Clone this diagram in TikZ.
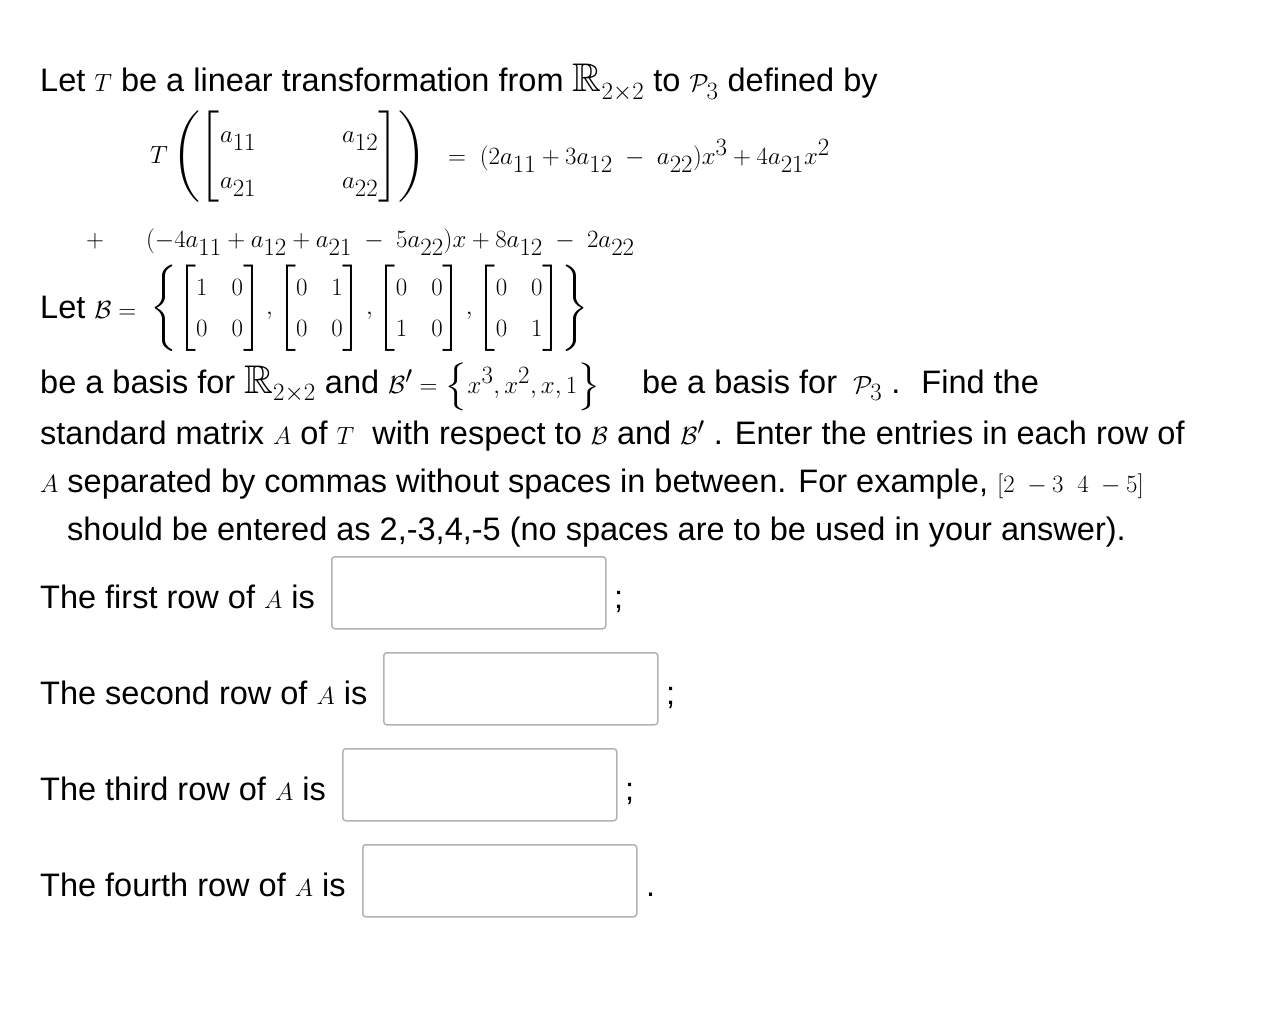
\documentclass[tikz,border=0pt]{standalone}
\usepackage{amsmath,amssymb}
\usepackage{fontspec}
\setmainfont{Liberation Sans}
\newcommand\mm[1]{{\fontsize{40}{48}\selectfont$#1$}}
\begin{document}
\begin{tikzpicture}[x=1pt,y=-1pt,
  txt/.style={anchor=base west,inner sep=0pt,font=\fontsize{32.5}{38}\selectfont},
  mth/.style={inner sep=0pt,font=\fontsize{42}{50}\selectfont},
  ansbox/.style={draw=black!30,line width=1.5pt,rounded corners=3pt,minimum width=274pt,minimum height=72pt,inner sep=0pt,anchor=north west}]
\useasboundingbox (0,0) rectangle (1274,1024);
\node[txt] (l1) at (40,92) {Let \mm{T} be a linear transformation from \mm{\mathbb{R}_{2\times2}} to \mm{\mathcal{P}_3} defined by};
\node[mth,anchor=west,font=\fontsize{38}{44}\selectfont] (tm) at (150,157) {$T\left(\begin{bmatrix} a_{11} & \qquad a_{12}\\[2pt] a_{21} & \qquad a_{22}\end{bmatrix}\right)$};
\node[mth,anchor=base west] (rhs) at (448,165) {$=\;(2a_{11}+3a_{12}\;-\;a_{22})x^3+4a_{21}x^2$};
\node[mth,anchor=base west] (l3) at (86,248) {$+\quad(-4a_{11}+a_{12}+a_{21}\;-\;5a_{22})x+8a_{12}\;-\;2a_{22}$};
\node[txt] (letb) at (40,318) {Let \mm{\mathcal{B}=}};
\node[mth,anchor=west,font=\fontsize{36}{40}\selectfont] (bset) at (150,308) {$\setlength\arraycolsep{12pt}\left\{\begin{bmatrix}1&0\\0&0\end{bmatrix},\begin{bmatrix}0&1\\0&0\end{bmatrix},\begin{bmatrix}0&0\\1&0\end{bmatrix},\begin{bmatrix}0&0\\0&1\end{bmatrix}\right\}$};
\node[txt] (l5) at (40,393) {be a basis for \mm{\mathbb{R}_{2\times2}} and \mm{\mathcal{B}'=\big\{x^3,x^2,x,1\big\}}\quad\ be a basis for \mm{\;\mathcal{P}_3} . \ Find the};
\node[txt] (l6) at (40,444) {standard matrix \mm{A} of \mm{T}\ \ with respect to \mm{\mathcal{B}} and \mm{\mathcal{B}'} . Enter the entries in each row of};
\node[txt] (l7) at (40,492) {\mm{A} separated by commas without spaces in between. For example, \mm{[2\;-3\;\;4\;-5]}};
\node[txt] (l8) at (67,540) {should be entered as 2,-3,4,-5 (no spaces are to be used in your answer).};
\node[txt] (r1) at (40,608) {The first row of \mm{A} is};
\node[ansbox] (b1) at (331,556) {};
\node[txt] (s1) at (614,608) {;};
\node[txt] (r2) at (40,704) {The second row of \mm{A} is};
\node[ansbox] (b2) at (383,652) {};
\node[txt] (s2) at (666,704) {;};
\node[txt] (r3) at (40,800) {The third row of \mm{A} is};
\node[ansbox] (b3) at (342,748) {};
\node[txt] (s3) at (625,800) {;};
\node[txt] (r4) at (40,896) {The fourth row of \mm{A} is};
\node[ansbox] (b4) at (362,844) {};
\node[txt] (s4) at (646,896) {.};
\end{tikzpicture}
\end{document}
